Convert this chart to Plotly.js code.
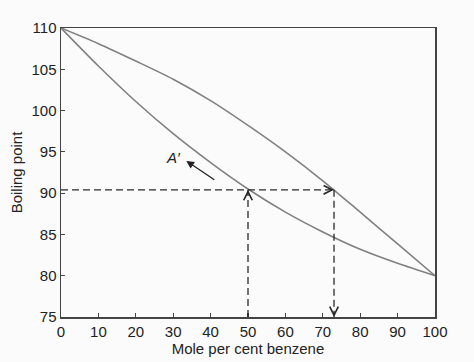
<!DOCTYPE html>
<html>
<head>
<meta charset="utf-8">
<script src="https://cdn.plot.ly/plotly-3.0.1.min.js"></script>
<style>html,body{margin:0;padding:0;background:#fbfbfb;}#chart{width:474px;height:362px;}</style>
</head>
<body>
<div id="chart"></div>
<script>
// Data
var molePercent = [0, 10, 20, 30, 40, 50, 60, 70, 80, 90, 100];
var liquidT     = [110, 105.4, 101.1, 97.2, 93.7, 90.5, 87.7, 85.3, 83.2, 81.5, 80.0];
var vaporT      = [110, 108.1, 106.0, 103.8, 101.2, 98.2, 95.0, 91.5, 87.7, 83.85, 80.0];
var xTicks = [0, 10, 20, 30, 40, 50, 60, 70, 80, 90, 100];
var yTicks = [75, 80, 85, 90, 95, 100, 105, 110];
// Tie line construction
var tieT = 90.4;        // boiling temperature of the mixture
var liquidX = 50;       // liquid composition
var vaporX = 73;        // vapour composition
var baseT = 75;
// A' arrow (tail -> head) and label
var arrowTail = [41.4, 91.5];
var arrowHead = [33.5, 93.9];
var labelPos = [30.0, 94.3];

var curveColor = '#808080';
var inkColor = '#2a2a2a';
var font = {family: 'Liberation Sans, Arial, sans-serif', size: 15, color: '#222'};

var traces = [
  {x: molePercent, y: vaporT, mode: 'lines', line: {color: curveColor, width: 1.6, shape: 'spline', smoothing: 0.8}, hoverinfo: 'skip'},
  {x: molePercent, y: liquidT, mode: 'lines', line: {color: curveColor, width: 1.6, shape: 'spline', smoothing: 0.8}, hoverinfo: 'skip'}
];

var dash = {color: inkColor, width: 1.3, dash: '7px,4px'};
var shapes = [
  {type: 'line', xref: 'x', yref: 'y', x0: 0, x1: vaporX, y0: tieT, y1: tieT, line: dash},
  {type: 'line', xref: 'x', yref: 'y', x0: liquidX, x1: liquidX, y0: baseT, y1: tieT, line: dash},
  {type: 'line', xref: 'x', yref: 'y', x0: vaporX, x1: vaporX, y0: tieT, y1: baseT, line: dash}
];

function chevron(xTip, yTip, xFrom, yFrom) {
  return {x: xTip, y: yTip, ax: xFrom, ay: yFrom, xref: 'x', yref: 'y', axref: 'x', ayref: 'y',
    text: '', showarrow: true, arrowhead: 5, arrowsize: 1.4, arrowwidth: 1.2, arrowcolor: inkColor};
}

var annotations = [
  chevron(vaporX, tieT, vaporX - 1.5, tieT),
  chevron(liquidX, tieT, liquidX, tieT - 0.7),
  chevron(vaporX, baseT, vaporX, baseT + 0.7),
  {x: arrowHead[0], y: arrowHead[1], ax: arrowTail[0], ay: arrowTail[1], xref: 'x', yref: 'y', axref: 'x', ayref: 'y',
    text: '', showarrow: true, arrowhead: 2, arrowsize: 1.2, arrowwidth: 1.3, arrowcolor: '#222'},
  {x: labelPos[0], y: labelPos[1], xref: 'x', yref: 'y', text: '<i>A′</i>', showarrow: false,
    font: {family: 'Liberation Sans, Arial, sans-serif', size: 15, color: '#222'}}
];

var axisCommon = {
  showgrid: false, zeroline: false, showline: true, mirror: true,
  linecolor: '#444', linewidth: 1.5, ticks: 'inside', ticklen: 4, tickwidth: 1.2, tickcolor: '#444',
  tickfont: font
};

var layout = {
  width: 474, height: 362,
  margin: {l: 61, r: 39, t: 28, b: 45},
  paper_bgcolor: '#fbfbfb', plot_bgcolor: '#fbfbfb',
  showlegend: false,
  font: font,
  xaxis: Object.assign({}, axisCommon, {range: [0, 100], tickvals: xTicks, ticktext: xTicks.map(String),
    title: {text: 'Mole per cent benzene', font: font, standoff: 5}}),
  yaxis: Object.assign({}, axisCommon, {range: [75, 110], tickvals: yTicks, ticktext: yTicks.map(String),
    title: {text: 'Boiling point', font: font, standoff: 5}}),
  shapes: shapes,
  annotations: annotations
};

Plotly.newPlot('chart', traces, layout, {displayModeBar: false, staticPlot: true});
</script>
</body>
</html>
